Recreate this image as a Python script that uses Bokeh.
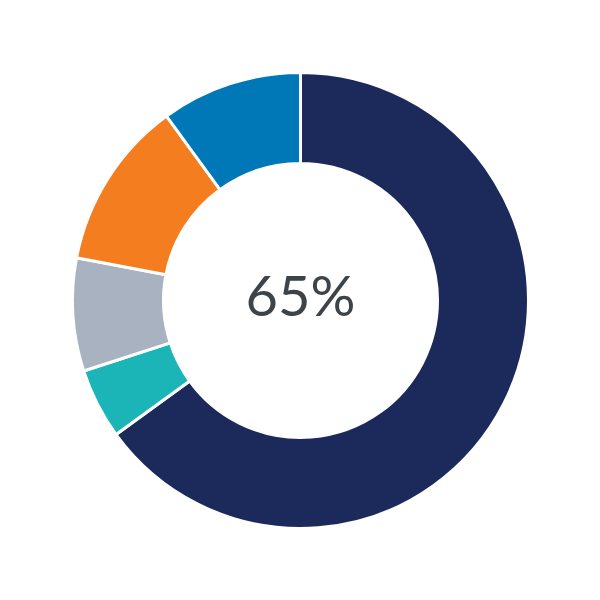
from math import pi

from bokeh.core.properties import value
from bokeh.embed import file_html
from bokeh.models import ColumnDataSource, Range1d
from bokeh.plotting import figure
from bokeh.resources import INLINE

labels = ["A", "B", "C", "D", "E"]
shares = [65, 5, 8, 12, 10]
colours = ["#1b2a5b", "#1bb5b7", "#a8b2c1", "#f47d20", "#0077b7"]
centre_label = "65%"

total = sum(shares)
starts, ends = [], []
acc = 0
for s in shares:
    starts.append(pi / 2 - 2 * pi * acc / total)
    acc += s
    ends.append(pi / 2 - 2 * pi * acc / total)

source = ColumnDataSource(dict(label=labels, share=shares, color=colours,
                               start=starts, end=ends))

# 292 px per unit, centre placed at pixel 300 of the frame
p = figure(width=584, height=584, output_backend="svg", toolbar_location=None,
           x_range=Range1d(-300 / 292, 284 / 292),
           y_range=Range1d(-284 / 292, 300 / 292), min_border=0)
p.annular_wedge(x=0, y=0, inner_radius=137 / 292, outer_radius=228 / 292,
                start_angle="start", end_angle="end", direction="clock",
                fill_color="color", line_color="white", line_width=3,
                source=source)
p.text(x=[0], y=[0], text=[centre_label], text_align="center",
       text_baseline="middle", text_font=value("Lato"), y_offset=-6,
       text_font_size="56px", text_color="#3c4349")

p.axis.visible = False
p.grid.visible = False
p.outline_line_color = None

open("out.html", "w").write(file_html(p, INLINE))
